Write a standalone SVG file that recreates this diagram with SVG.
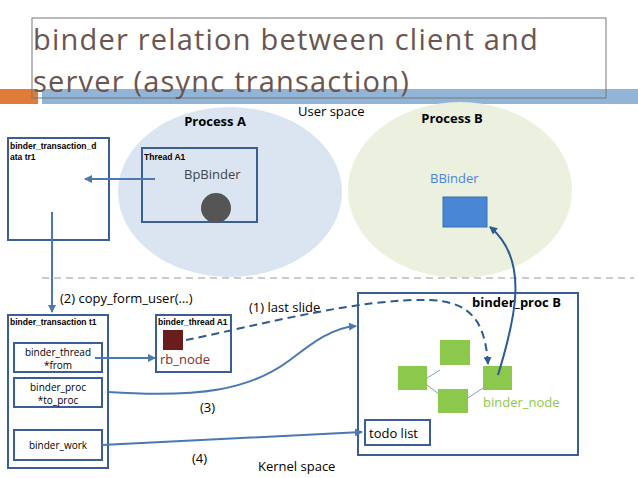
<svg xmlns="http://www.w3.org/2000/svg" width="638" height="478" viewBox="0 0 638 478">
<defs>
<marker id="ah" markerWidth="8" markerHeight="8" refX="7" refY="4" orient="auto" markerUnits="userSpaceOnUse"><path d="M0,0 L8,4 L0,8 z" fill="#4a78b0"/></marker>
<marker id="ahd" markerWidth="8" markerHeight="8" refX="7" refY="4" orient="auto" markerUnits="userSpaceOnUse"><path d="M0,0 L8,4 L0,8 z" fill="#2c5b8e"/></marker>
<style>
.box{fill:#fff;stroke:#3b5f94;stroke-width:2}
.sm{font-family:"Liberation Sans",Arial,sans-serif;font-size:8.5px;font-weight:bold}
.t{font-family:"Open Sans","Liberation Sans",sans-serif;font-size:10px;text-anchor:middle}
.lb{font-family:"Open Sans","Liberation Sans",sans-serif;font-size:13px}
.c{fill:none;stroke:#4a78b0;stroke-width:2}
.g{fill:#8cc84b}
</style>
</defs>
<rect width="638" height="478" fill="#fff"/>
<rect x="0" y="89" width="38" height="15" fill="#e07b39"/>
<rect x="42" y="89" width="596" height="15" fill="#92b4d6"/>
<g id="title">
<rect x="32" y="18" width="574" height="80" fill="none" stroke="#777" stroke-width="1"/>
<text x="33" y="50" font-family="'Open Sans','Liberation Sans',sans-serif" font-size="29" letter-spacing="1.2" fill="#6a5550">binder relation between client and</text>
<text x="33" y="92" font-family="'Open Sans','Liberation Sans',sans-serif" font-size="29" letter-spacing="1.2" fill="#6a5550">server (async transaction)</text>
</g>
<g id="processA"><ellipse cx="230" cy="192" rx="112" ry="85" fill="#dbe5f1"/><text x="215" y="126" class="lb" font-weight="bold" text-anchor="middle">Process A</text></g>
<g id="processB"><ellipse cx="460" cy="190" rx="112" ry="88" fill="#ebf1de"/><text x="452" y="123" class="lb" font-weight="bold" text-anchor="middle">Process B</text></g>
<text x="298" y="116" class="lb">User space</text>
<text x="258" y="471" class="lb">Kernel space</text>
<line x1="42" y1="278" x2="634" y2="278" stroke="#999" stroke-dasharray="7,5"/>
<g id="tr1"><rect x="8" y="138" width="101" height="102" class="box"/><text x="10" y="149" class="sm">binder_transaction_d</text><text x="10" y="160" class="sm">ata tr1</text></g>
<g id="threadA1"><rect x="142" y="148" width="115" height="74" style="fill:none;stroke:#3b5f94;stroke-width:2"/><text x="144" y="160" class="sm" font-size="10">Thread A1</text><text x="184" y="179" class="lb" font-size="14" fill="#444">BpBinder</text><circle cx="216" cy="208" r="15" fill="#555"/></g>
<g id="bbinder"><text x="430" y="183" class="lb" font-size="14" fill="#4a86d6">BBinder</text><rect x="443" y="197" width="44" height="30" fill="#4a86d6" stroke="#3a6fb0"/></g>
<g id="t1"><rect x="8" y="315" width="100" height="153" class="box"/><text x="10" y="325" class="sm">binder_transaction t1</text>
<rect x="14" y="343" width="88" height="29" class="box" stroke-width="1.5"/><text x="58" y="356" class="t">binder_thread</text><text x="58" y="369" class="t">*from</text>
<rect x="14" y="378" width="88" height="29" class="box" stroke-width="1.5"/><text x="58" y="391" class="t">binder_proc</text><text x="58" y="404" class="t">*to_proc</text>
<rect x="14" y="430" width="88" height="30" class="box" stroke-width="1.5"/><text x="58" y="449" class="t">binder_work</text></g>
<g id="bthreadA1"><rect x="156" y="315" width="75" height="57" class="box"/><text x="158" y="325" class="sm" font-size="8">binder_thread A1</text><rect x="163" y="330" width="20" height="20" fill="#6b1c1c"/><text x="160" y="364" class="lb" fill="#7a3030">rb_node</text></g>
<g id="procB"><rect x="358" y="293" width="220" height="162" class="box"/><text x="472" y="307" class="lb" font-weight="bold">binder_proc B</text>
<line x1="427" y1="378" x2="440" y2="370" stroke="#7a9fd0"/><line x1="427" y1="385" x2="440" y2="395" stroke="#7a9fd0"/><line x1="468" y1="398" x2="483" y2="388" stroke="#7a9fd0"/>
<rect x="398" y="366" width="29" height="24" class="g"/><rect x="440" y="340" width="30" height="25" class="g"/><rect x="438" y="389" width="30" height="24" class="g"/><rect x="483" y="366" width="29" height="24" class="g"/>
<text x="483" y="407" class="lb" fill="#8cc84b">binder_node</text>
<rect x="365" y="420" width="65" height="25" class="box"/><text x="369" y="438" class="lb">todo list</text></g>
<text x="60" y="303" class="lb" font-size="12">(2) copy_form_user(…)</text>
<text x="249" y="312" class="lb">(1) last slide</text>
<text x="200" y="412" class="lb">(3)</text>
<text x="192" y="463" class="lb">(4)</text>
<g id="connectors">
<line x1="155" y1="179" x2="85" y2="179" class="c" marker-end="url(#ah)"/>
<line x1="52" y1="212" x2="52" y2="312" class="c" marker-end="url(#ah)"/>
<line x1="95" y1="358" x2="155" y2="358" class="c" marker-end="url(#ah)"/>
<path d="M186,340 C260,325 360,298 430,300 C470,302 485,320 488,364" fill="none" stroke="#2c5b8e" stroke-width="2" stroke-dasharray="8,5" marker-end="url(#ahd)"/>
<path d="M108,392 C200,398 250,390 290,360 C310,345 330,328 356,326" class="c" marker-end="url(#ah)"/>
<path d="M102,445 C200,440 300,435 362,432" class="c" marker-end="url(#ah)"/>
<path d="M498,375 C515,320 530,260 490,227" fill="none" stroke="#2c5b8e" stroke-width="2" marker-end="url(#ahd)"/>
</g>
</svg>
